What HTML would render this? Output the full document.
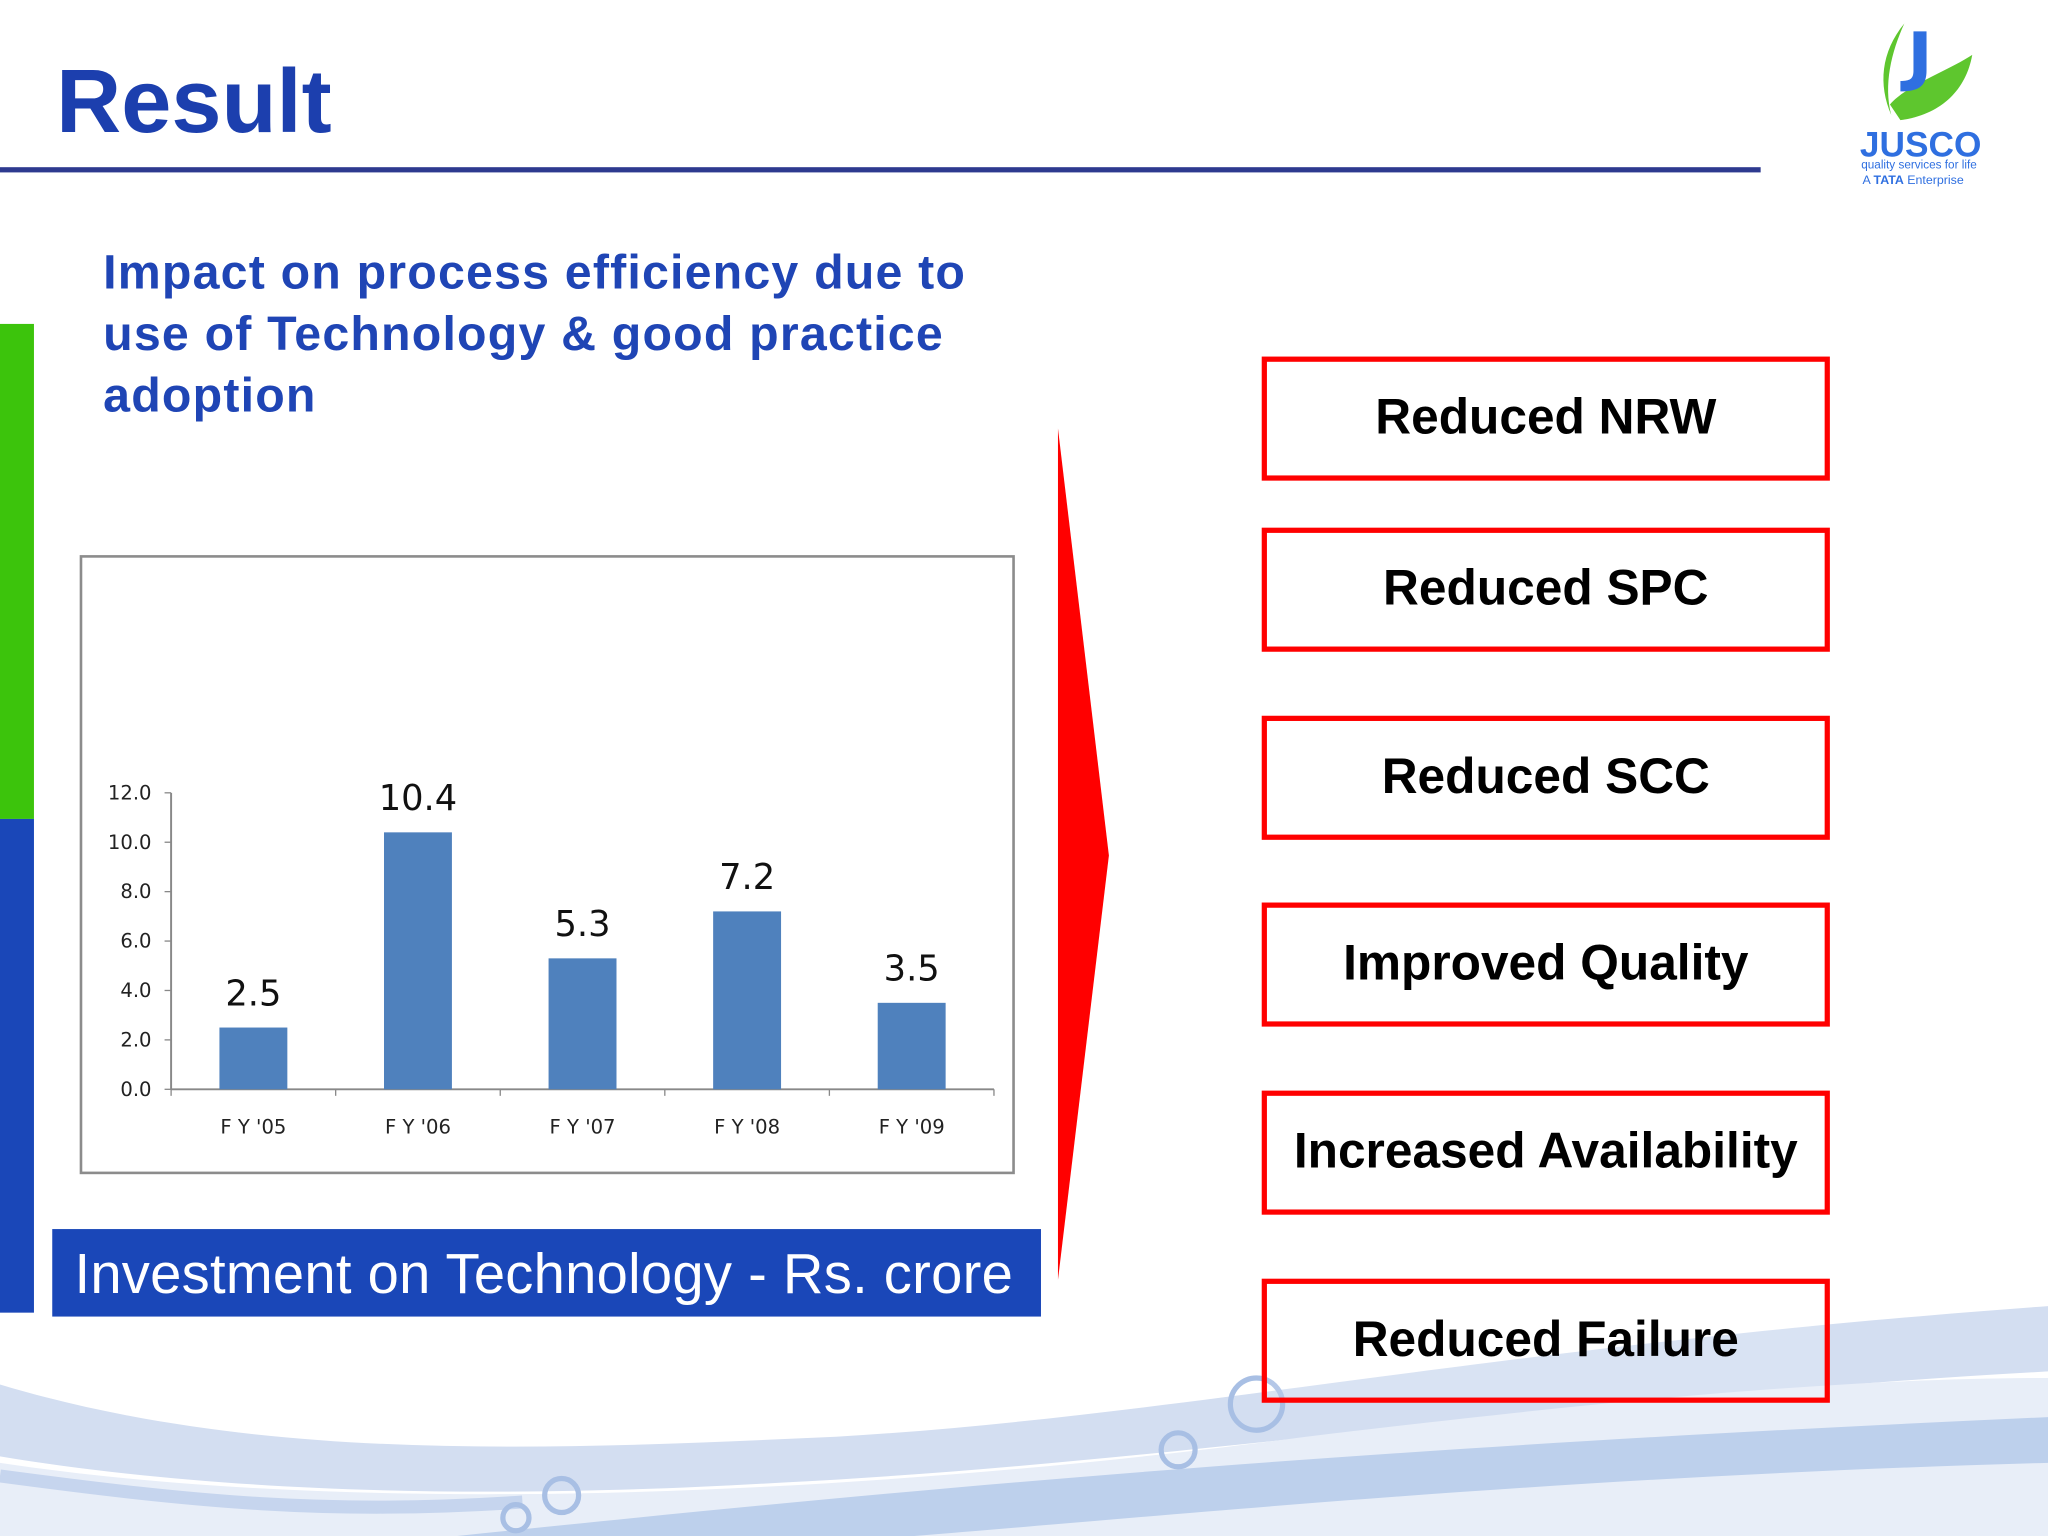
<!DOCTYPE html>
<html><head><meta charset="utf-8"><style>
html,body{margin:0;padding:0;width:2048px;height:1536px;overflow:hidden;background:#fff}
#wrap{position:absolute;left:0;top:0;width:1568px;height:1176px;transform:scale(1.306122);transform-origin:0 0;font-family:"Liberation Sans",Arial,sans-serif}
.abs{position:absolute}
.box{position:absolute;left:966px;width:427px;height:87px;border:4px solid #ff0000;background:rgba(255,255,255,0.9);font-weight:bold;font-size:38px;display:flex;align-items:center;justify-content:center;color:#000}
</style></head><body>
<div id="wrap">
<svg class="abs" style="left:0;top:0" width="1568" height="1176">
<path d="M0 1060 C200 1120 420 1110 640 1100 C900 1085 1150 1030 1568 1000 L1568 1050 C1200 1070 900 1120 600 1135 C350 1150 150 1140 0 1115Z" fill="#d3def1"/>
<path d="M0 1120 C300 1165 700 1140 1000 1100 C1250 1070 1420 1055 1568 1055 L1568 1176 L0 1176Z" fill="#e8eef8"/>
<path d="M350 1176 C650 1145 1000 1110 1568 1085 L1568 1120 C1200 1130 900 1160 700 1176Z" fill="#bdd0ec"/>
<path d="M0 1130 C150 1150 250 1160 400 1150" stroke="#c6d5ee" stroke-width="10" fill="none"/>
<circle cx="902" cy="1110" r="13" fill="none" stroke="#a8bfe4" stroke-width="4"/>
<circle cx="962" cy="1075" r="20" fill="none" stroke="#a8bfe4" stroke-width="4"/>
<circle cx="430" cy="1145" r="13" fill="none" stroke="#a8bfe4" stroke-width="4"/>
<circle cx="395" cy="1162" r="10" fill="none" stroke="#a8bfe4" stroke-width="4"/>
</svg>
<div class="abs" style="left:43px;top:38px;font-size:69px;font-weight:bold;color:#1c3fae">Result</div>
<div class="abs" style="left:0;top:128px;width:1348px;height:4px;background:#2e3a8f"></div>
<svg class="abs" style="left:1420px;top:10px" width="105" height="140">
<path d="M38 8 C20 30 18 55 28 78 C22 55 28 30 38 8Z" fill="#5ec62e"/>
<path d="M27 70 C40 55 70 45 90 32 C85 60 65 78 35 82Z" fill="#5ec62e"/>
<path d="M45 14 h10 v30 c0 12 -6 16 -20 16 v-8 c8 0 10 -2 10 -8Z" fill="#2f6fe0"/>
<text x="4" y="110" font-size="27" font-weight="bold" fill="#2f6fe0" font-family="Liberation Sans">JUSCO</text>
<text x="5" y="119" font-size="9" fill="#2f6fe0" font-family="Liberation Sans">quality services for life</text>
<text x="6" y="131" font-size="9.5" fill="#2f6fe0" font-family="Liberation Sans">A <tspan font-weight="bold">TATA</tspan> Enterprise</text>
</svg>
<div class="abs" style="left:0;top:248px;width:26px;height:379px;background:#3cc40c"></div>
<div class="abs" style="left:0;top:627px;width:26px;height:378px;background:#1a47b8"></div>
<div class="abs" style="left:79px;top:185px;width:720px;font-size:37px;letter-spacing:0.9px;font-weight:bold;color:#1f45b5;line-height:47px">Impact on process efficiency due to use of Technology &amp; good practice adoption</div>
<div class="abs" style="left:61px;top:425px;width:712px;height:470px;border:2px solid #8c8c8c;background:#fff"></div>
<svg id="chart" class="abs" style="left:0;top:0" width="1568" height="1176"></svg>
<div class="abs" style="left:40px;top:941px;width:757px;height:67px;background:#1a47b8;color:#fff;font-size:43px;letter-spacing:0.2px;line-height:70px;text-indent:17px">Investment on Technology - Rs. crore</div>
<svg class="abs" style="left:0;top:0" width="1568" height="1176"><polygon points="810,328 849,655 810,980" fill="#ff0000"/></svg>
<div class="box" style="top:273px">Reduced NRW</div>
<div class="box" style="top:404px">Reduced SPC</div>
<div class="box" style="top:548px">Reduced SCC</div>
<div class="box" style="top:691px">Improved Quality</div>
<div class="box" style="top:835px">Increased Availability</div>
<div class="box" style="top:979px;background:rgba(255,255,255,0.15)">Reduced Failure</div>
</div>
<script>
const categories=["F Y '05","F Y '06","F Y '07","F Y '08","F Y '09"];
const values=[2.5,10.4,5.3,7.2,3.5];
const valueLabels=["2.5","10.4","5.3","7.2","3.5"];
const yTicks=[0,2,4,6,8,10,12];
const NS="http://www.w3.org/2000/svg";
const svg=document.getElementById('chart');
const x0=131,x1=761,y0=834,yTop=607,yMax=12;
const y=v=>y0-(v/yMax)*(y0-yTop);
const band=(x1-x0)/categories.length;
const xc=i=>x0+band*(i+0.5);
function mk(t,a){const e=document.createElementNS(NS,t);for(const k in a)e.setAttribute(k,a[k]);svg.appendChild(e);return e;}
let ax=mk('line',{x1:x0,y1:yTop,x2:x0,y2:y0,stroke:'#888','stroke-width':1.5});


let bx=mk('line',{x1:x0,y1:y0,x2:x1,y2:y0,stroke:'#888','stroke-width':1.5});


yTicks.forEach(v=>{
 mk('line',{x1:x0-5,y1:y(v),x2:x0,y2:y(v),stroke:'#888'});
 const t=mk('text',{x:116,y:y(v)+5,'text-anchor':'end','font-size':15,'font-family':'DejaVu Sans, sans-serif',fill:'#222'});
 t.textContent=v.toFixed(1);
 
 
});
for(let i=0;i<=categories.length;i++)mk('line',{x1:x0+band*i,y1:y0,x2:x0+band*i,y2:y0+5,stroke:'#888'});
categories.forEach((c,i)=>{
 const b=mk('rect',{x:xc(i)-26,y:y(values[i]),width:52,height:y0-y(values[i]),fill:'#4f81bd'});
 
 
 const l=mk('text',{x:xc(i),y:y(values[i])-17,'text-anchor':'middle','font-size':27,'font-family':'DejaVu Sans, sans-serif',fill:'#111'});
 l.textContent=valueLabels[i];
 
 
 const t=mk('text',{x:xc(i),y:868,'text-anchor':'middle','font-size':15,'font-family':'DejaVu Sans, sans-serif',fill:'#222'});
 t.textContent=c;
 
 
});
</script>
</body></html>
